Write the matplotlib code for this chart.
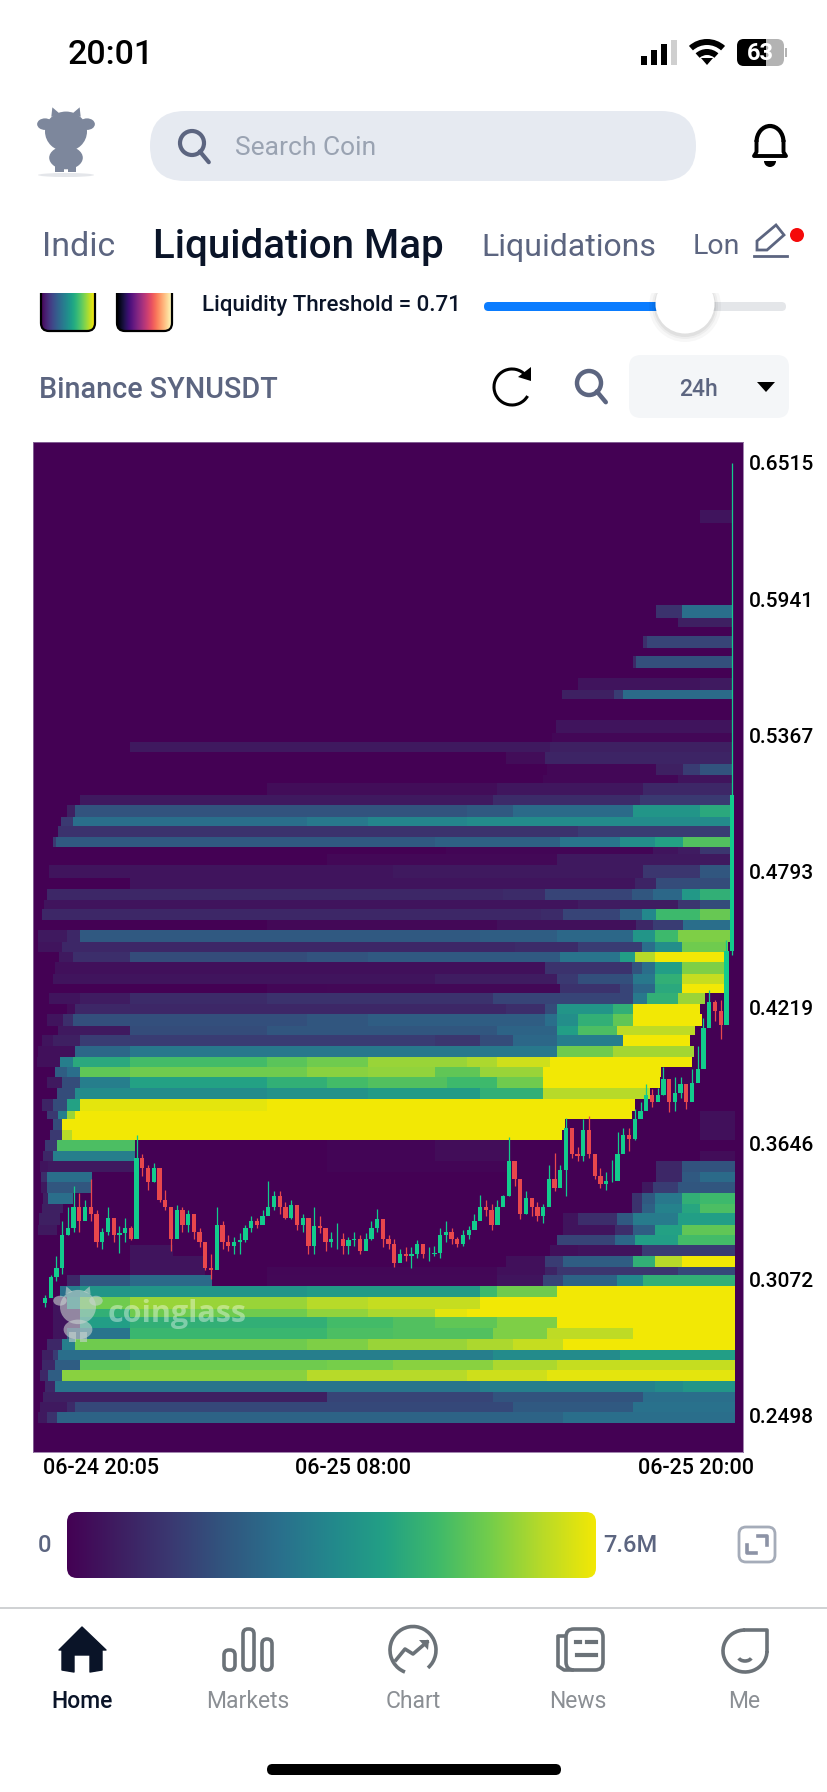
import numpy as np
import matplotlib
matplotlib.use('Agg')
import matplotlib.pyplot as plt
from matplotlib.colors import LinearSegmentedColormap
from matplotlib.patches import Arc, Circle, Ellipse, FancyBboxPatch, Polygon, Rectangle, Wedge

plt.rcParams['font.family'] = ['Roboto', 'DejaVu Sans']

# price rows of the heatmap, top to bottom
price_edges = [
    .6603, .6317, .6262, .5916, .5862, .5824, .5786, .5735, .5701, .5651, .5609, .5558, .5520, .5432,
    .5377, .5339, .5297, .5246, .5200, .5166, .5116, .5073, .5023, .4985, .4938, .4896, .4867, .4820,
    .4766, .4719, .4673, .4635, .4589, .4546, .4494, .4454, .4410, .4361, .4317, .4280, .4236, .4191,
    .4140, .4103, .4058, .4011, .3967, .3925, .3881, .3834, .3785, .3748, .3704, .3659, .3615, .3573,
    .3526, .3482, .3438, .3393, .3352, .3304, .3260, .3220, .3174, .3127, .3090, .3046, .2999, .2950,
    .2913, .2868, .2821, .2775, .2735, .2691, .2644, .2598, .2558, .2514, .2470,
]

# one list per row: (hours since start, liquidity in millions) - each level holds until the next entry
liquidity_steps = [
    [],
    [(22.88, .5), (24, 0)],
    [],
    [(21.34, 1.3), (22.25, 3.0), (24, 0)],
    [(22.11, .8), (24, 0)],
    [],
    [(20.89, 1.2), (21.03, 1.8), (24, 0)],
    [],
    [(20.54, 1.0), (20.64, 2.1), (24, 0)],
    [],
    [(18.62, .5), (22.88, .65), (24, 0)],
    [(18.06, .8), (19.87, 1.6), (20.19, 2.9), (24, 0)],
    [],
    [(17.85, .5), (24, 0)],
    [(17.71, .15), (24, 0)],
    [(2.97, .6), (17.64, .8), (24, 0)],
    [(16.1, .3), (17.46, .9), (24, 0)],
    [(17.53, .15), (21.34, .8), (22.28, 1.6), (22.88, 2.2), (24, 0)],
    [(17.4, .15), (22.11, .5), (24, 0)],
    [(7.75, .3), (15.79, .55), (20.89, 1), (24, 0)],
    [(1.22, .6), (15.65, 1.1), (20.78, 1.5), (24, 0)],
    [(.77, .8), (1.05, 2.2), (14.74, 2.4), (16.35, 2.9), (20.54, 4.2), (22.88, 4.8), (24.03, 0)],
    [(.56, 1.5), (.98, 3.0), (9.15, 3.3), (11.28, 3.7), (14.74, 3.9), (24, 0)],
    [(.45, 1.3), (18.62, 1.6), (24, 0)],
    [(.28, 1.5), (.38, 2.4), (13.62, 2.6), (17.99, 3.2), (20.08, 4), (21.31, 4.6), (22.28, 5.6), (24.03, 0)],
    [(14, .1), (21.24, .5), (22.11, .7), (22.88, 1.4), (24, 0)],
    [(9.85, .2), (17.88, .6), (24, 0)],
    [(.14, .5), (12.16, .6), (20.89, 1.4), (22.88, 2.3), (24, 0)],
    [(2.97, .5), (20.61, .9), (21.34, 2.0), (24, 0)],
    [(.07, 1.0), (16.0, 1.1), (17.46, 1.8), (20.5, 2.3), (21.24, 2.8), (22.25, 4.3), (22.88, 5), (24.03, 0)],
    [(-.03, .5), (18.62, .7), (22.11, 1.4), (22.88, 2), (24, 0)],
    [(-.1, 1), (17.32, 1.1), (18.09, 1.8), (20.08, 2.6), (20.85, 3.8), (21.34, 5.3), (22.88, 5.9), (24.03, 0)],
    [(7.75, .2), (15.79, .4), (20.64, 1), (21.24, 1.6), (22.28, 3), (24, 0)],
    [(-.24, .6), (.77, 1), (1.22, 2.4), (15.19, 2.5), (17.88, 2.8), (20.54, 4.2), (21.31, 5.3), (22.11, 6.2), (23.93, 0)],
    [(-.24, .5), (.59, 1), (16.42, 1.1), (18.62, 1.6), (20.85, 3), (21.31, 4), (22.25, 6), (23.86, 0)],
    [(.49, .6), (.98, 1.2), (2.97, 2), (9.15, 2.2), (11.28, 2.4), (17.99, 3.2), (20.08, 4.5), (20.61, 6.8), (21.31, 7.6), (23.86, 0)],
    [(.35, .4), (17.46, 1.3), (20.5, 2.2), (20.85, 3), (21.31, 4.5), (22.25, 6.2), (23.86, 0)],
    [(.28, .5), (13.62, .7), (17.88, 1.5), (18.62, 2.1), (20.54, 3.3), (21.31, 5), (22.25, 7), (23.86, 0)],
    [(7.75, .15), (9.85, .2), (17.99, 1.3), (20.08, 1.8), (20.54, 2.8), (21.31, 4.8), (22.25, 7.6), (23.79, 0)],
    [(.14, .5), (1.22, .7), (2.97, 1.1), (7.75, 1.3), (15.65, 1.8), (20.54, 3.3), (21.03, 5), (22.11, 6.5), (23.05, 0)],
    [(.77, .3), (1.05, 1), (16.1, 1.2), (17.46, 2), (17.88, 4.2), (19.84, 5), (20.54, 7.6), (22.88, 0)],
    [(.07, .5), (.63, 1.2), (.98, 2.1), (9.15, 2.3), (11.28, 2.5), (17.46, 3), (17.88, 4), (18.62, 5), (19.84, 5.8), (20.54, 7.6), (22.95, 0)],
    [(.45, .6), (2.97, 2), (7.75, 2.3), (15.79, 2.7), (17.88, 4.5), (18.62, 5.5), (19.98, 6.9), (22.7, 0)],
    [(-.1, .5), (.28, .8), (1.22, 1.6), (13.62, 1.4), (15.19, 2), (16.35, 2.8), (17.88, 3.5), (20.19, 7.6), (22.53, 0)],
    [(-.24, .4), (1.05, 2.8), (2.97, 3.3), (17.88, 6), (19.84, 6.6), (22.67, 0)],
    [(-.28, .4), (.52, 3.5), (.98, 4.8), (2.97, 5.4), (7.75, 5.7), (9.15, 6), (11.28, 6.5), (14.74, 6.7), (15.79, 7.1), (17.64, 7.6), (22.6, 0)],
    [(.35, 2.5), (.77, 3), (1.22, 5.8), (2.97, 6), (9.15, 6.3), (11.28, 6.4), (13.62, 5.8), (15.19, 6.5), (17.39, 7.6), (21.52, 0)],
    [(.07, .6), (.59, 2), (1.22, 3.5), (2.97, 4.6), (7.75, 5), (9.85, 5.4), (11.28, 5.6), (14.04, 5.3), (15.79, 6), (17.39, 7.6), (21.48, 0)],
    [(.42, 2), (1.05, 3.9), (7.75, 4.1), (11.28, 4.4), (15.19, 5), (17.39, 6.8), (21.13, 0)],
    [(-.1, .9), (.28, 2), (.77, 4.6), (1.22, 7.4), (7.75, 7.6), (20.61, 0)],
    [(.07, 1.5), (.45, 3.5), (.77, 6.5), (1.05, 7.6), (20.5, 0), (22.88, .4), (24.1, 0)],
    [(.28, 2), (.59, 7.6), (18.16, 0), (22.88, .4), (24.1, 0)],
    [(.17, 1.5), (.59, 6.8), (.94, 7.6), (18.06, 0), (22.88, .4), (24.1, 0)],
    [(0, 1.5), (.42, 5.5), (3.14, 0), (9.85, .1), (13.62, .3), (16.24, 0)],
    [(-.07, 1), (.28, 3.5), (3.14, 0), (9.85, .1), (13.62, .3), (16.24, 0), (22.88, .3), (24.1, 0)],
    [(-.17, .5), (.1, .6), (3.14, 0), (9.85, .1), (16.24, 0), (21.34, 1), (22.25, 2.2), (24.1, 0)],
    [(-.14, 1.2), (.07, 3), (1.64, 0), (21.34, 1), (22.25, 2.4), (22.88, 2.9), (24.1, 0)],
    [(-.14, .6), (.07, 2.3), (1.64, 0), (20.85, .6), (21.24, 1.6), (22.11, 2.3), (24.1, 0)],
    [(-.07, .8), (.1, 3), (.98, 0), (20.5, 1.3), (20.85, 2.4), (21.31, 3.3), (22.25, 5), (22.88, 5.3), (24.1, 0)],
    [(-.1, .8), (.63, 0), (20.5, 1.3), (20.85, 2.6), (21.31, 3.6), (22.25, 4.7), (22.88, 5.5), (24.1, 0)],
    [(-.21, .8), (.52, 0), (18.09, .5), (18.62, 1.2), (19.98, 2.4), (20.54, 3.4), (22.11, 4.5), (24.1, 0)],
    [(-.24, .6), (.42, 0), (18.09, .5), (19.91, 1.2), (20.54, 2.5), (21.31, 4.6), (22.25, 5.8), (24.1, 0)],
    [(17.88, 1.8), (19.91, 2.8), (20.61, 4.5), (22.11, 5.4), (24.1, 0)],
    [(2.97, .5), (4.47, 0), (17.64, .4), (18.62, .5), (20.85, 1.6), (24.1, 0)],
    [(2.97, .5), (5.59, 0), (16.1, .4), (17.46, 1.6), (18.09, 2.5), (20.54, 5), (21.31, 6.8), (22.25, 7.6), (24.1, 0)],
    [(2.97, .5), (5.59, 0), (7.75, .15), (15.79, .4), (17.46, .9), (17.88, 1.4), (22.11, 1.9), (24.1, 0)],
    [(.77, 1), (1.22, 2.4), (2.97, 2.9), (5.83, 0), (7.75, .2), (15.79, .5), (17.39, 1.8), (18.09, 2.7), (19.98, 3.8), (20.89, 5), (24.1, 0)],
    [(.52, 3), (.77, 3.5), (1.22, 4.2), (9.15, 4.4), (15.19, 5.3), (15.79, 6), (17.88, 7.6), (24.1, 0)],
    [(.28, .5), (.77, 4), (1.22, 6), (2.97, 6.5), (9.15, 6.8), (11.28, 7), (15.19, 7.6), (24.1, 0)],
    [(.28, .5), (1.22, 5), (2.97, 6), (9.15, 6.4), (11.28, 6.7), (13.62, 7.4), (14.74, 7.6), (24.1, 0)],
    [(.28, .5), (1.22, 4.5), (2.97, 5), (9.85, 5.4), (12.16, 5.6), (13.62, 5.8), (15.79, 6.2), (17.88, 7.6), (24.1, 0)],
    [(.28, .5), (.77, 2.3), (1.22, 3.2), (2.97, 5.2), (9.85, 5.5), (12.16, 5.6), (15.65, 6.2), (17.53, 6.9), (20.54, 7.6), (24.1, 0)],
    [(.07, 1), (.59, 3.5), (1.05, 6), (9.15, 6.2), (11.28, 6.5), (14.74, 6.7), (16.35, 7), (18.09, 7.6), (24.1, 0)],
    [(-.1, .8), (.28, 1.6), (.45, 3), (2.97, 3.5), (15.65, 3.9), (20.08, 4.5), (24.1, 0)],
    [(-.1, 1), (.35, 2.5), (1.22, 5.8), (2.97, 6), (9.85, 6.1), (12.16, 6.3), (15.65, 6.7), (17.88, 7), (24.1, 0)],
    [(-.17, 1), (.1, 2.5), (.59, 6.3), (9.15, 6.8), (14.74, 7.1), (17.53, 7.4), (24.1, 0)],
    [(0, 1), (.35, 3.2), (15.19, 3.5), (20.08, 3.6), (21.31, 3.9), (22.28, 4.2), (24.1, 0)],
    [(-.07, .8), (9.85, 1.8), (15.65, 2.2), (20.89, 3), (24.1, 0)],
    [(-.17, .6), (.77, 1.1), (1.05, 1.9), (16.35, 2.4), (20.54, 3.1), (24.1, 0)],
    [(-.24, .6), (.07, 1.3), (.42, 2.7), (18.09, 3), (24.1, 0)],
]

# candles, 12 minutes apart
first_open = .2975
closes = [
    .2994, .3083, .3120, .3260, .3290, .3378, .3319, .3378, .3349, .3231,
    .3275, .3334, .3260, .3268, .3290, .3245, .3585, .3541, .3482, .3541,
    .3408, .3378, .3245, .3364, .3304, .3349, .3275, .3231, .3120, .3112,
    .3304, .3231, .3216, .3231, .3238, .3290, .3319, .3304, .3341, .3378,
    .3423, .3378, .3334, .3386, .3304, .3334, .3216, .3297, .3290, .3231,
    .3245, .3245, .3216, .3238, .3245, .3194, .3245, .3290, .3327, .3245,
    .3223, .3142, .3179, .3171, .3179, .3223, .3179, .3179, .3186, .3260,
    .3275, .3245, .3223, .3260, .3282, .3319, .3378, .3364, .3304, .3378,
    .3423, .3571, .3497, .3349, .3415, .3378, .3341, .3378, .3497, .3460,
    .3534, .3711, .3600, .3593, .3704, .3600, .3511, .3474, .3489, .3489,
    .3600, .3681, .3667, .3748, .3785, .3851, .3822, .3851, .3918, .3822,
    .3859, .3896, .3822, .3903, .3962, .4132, .4243, .4206, .4147, .4457, .5116,
]
highs = [
    .3009, .3090, .3171, .3319, .3378, .3467, .3438, .3408, .3497, .3364,
    .3290, .3378, .3304, .3297, .3334, .3297, .3681, .3600, .3556, .3563,
    .3526, .3452, .3378, .3386, .3378, .3364, .3334, .3290, .3231, .3179,
    .3378, .3319, .3260, .3253, .3268, .3304, .3341, .3334, .3364, .3489,
    .3445, .3445, .3401, .3408, .3349, .3349, .3334, .3378, .3341, .3290,
    .3275, .3312, .3268, .3253, .3275, .3260, .3268, .3319, .3371, .3304,
    .3260, .3245, .3201, .3208, .3208, .3238, .3223, .3208, .3216, .3290,
    .3319, .3290, .3253, .3282, .3297, .3349, .3430, .3408, .3393, .3408,
    .3430, .3674, .3541, .3489, .3445, .3415, .3401, .3393, .3556, .3607,
    .3556, .3755, .3704, .3630, .3748, .3763, .3600, .3541, .3526, .3578,
    .3696, .3711, .3711, .3792, .3822, .3896, .3874, .3881, .3967, .3910,
    .3925, .3925, .3888, .3962, .4058, .4176, .4295, .4250, .4250, .4502, .6515,
]
lows = [
    .2957, .3024, .3068, .3098, .3260, .3275, .3275, .3334, .3319, .3208,
    .3201, .3260, .3231, .3186, .3231, .3238, .3260, .3511, .3452, .3482,
    .3401, .3364, .3194, .3275, .3275, .3275, .3245, .3208, .3112, .3075,
    .3127, .3201, .3194, .3179, .3179, .3231, .3275, .3290, .3319, .3349,
    .3364, .3349, .3327, .3327, .3282, .3275, .3179, .3179, .3268, .3194,
    .3208, .3201, .3179, .3179, .3216, .3179, .3201, .3238, .3275, .3208,
    .3201, .3127, .3149, .3149, .3120, .3164, .3164, .3149, .3171, .3164,
    .3231, .3223, .3208, .3216, .3245, .3290, .3341, .3341, .3282, .3349,
    .3393, .3423, .3467, .3327, .3349, .3341, .3319, .3312, .3386, .3445,
    .3511, .3423, .3585, .3571, .3571, .3585, .3497, .3460, .3452, .3482,
    .3541, .3644, .3615, .3659, .3763, .3792, .3800, .3829, .3851, .3777,
    .3785, .3837, .3792, .3888, .3940, .3970, .4162, .4162, .4088, .4206, .4440,
]

price_ticks = [.6515, .5941, .5367, .4793, .4219, .3646, .3072, .2498]
time_ticks = [1.96, 10.76, 22.74]
time_labels = ['06-24 20:05', '06-25 08:00', '06-25 20:00']
max_liquidity = 7.6

PURPLE = '#440154'
SLATE = '#5c6580'
GREY = '#8b8f94'
DARK = '#0a1428'

liq_cmap = LinearSegmentedColormap.from_list('liq', [
    (0, PURPLE), (.1, '#3e1f62'), (.2, '#3a3a72'), (.3, '#31567f'), (.4, '#2a6f8c'), (.5, '#23888c'),
    (.6, '#22a085'), (.7, '#3eb96b'), (.8, '#73cd4b'), (.9, '#b8da28'), (1, '#f2e805'),
])

fig = plt.figure(figsize=(8.28, 17.92), dpi=100, facecolor='white')

# ---------- heatmap and candles ----------
ax = fig.add_axes([33 / 828, 1 - 1452 / 1792, 710 / 828, 1010 / 1792], facecolor=PURPLE)

time_edges = np.array(sorted({t for steps in liquidity_steps for t, _ in steps}))
liquidity = np.zeros((len(liquidity_steps), len(time_edges) - 1))
for r, steps in enumerate(liquidity_steps):
    for (t0, v), (t1, _) in zip(steps, steps[1:]):
        liquidity[r, (time_edges[:-1] >= t0) & (time_edges[:-1] < t1)] = v
ax.pcolormesh(time_edges, price_edges, liquidity, cmap=liq_cmap, vmin=0, vmax=max_liquidity, shading='flat')

candle_close = np.array(closes)
candle_open = np.r_[first_open, candle_close[:-1]]
candle_time = np.arange(len(closes)) * 0.2
candle_color = np.where(candle_close >= candle_open, '#12cc8c', '#e8474c')
ax.vlines(candle_time, lows, highs, colors=candle_color, lw=.9)
ax.bar(candle_time, np.abs(candle_close - candle_open), bottom=np.minimum(candle_open, candle_close),
       width=.15, color=candle_color)

ax.set_xlim(-.419, 24.38)
ax.set_ylim(.2346, .6603)
ax.yaxis.tick_right()
ax.set_yticks(price_ticks, labels=[f'{p:.4f}' for p in price_ticks], fontsize=15, fontweight='medium')
ax.set_xticks(time_ticks, labels=time_labels, fontsize=15.5, fontweight='medium')
ax.tick_params(length=0, pad=4)
for spine in ax.spines.values():
    spine.set_color('#8f6fa0')
    spine.set_linewidth(.6)

# ---------- app screen around the chart, in pixels ----------
ui = fig.add_axes([0, 0, 1, 1], zorder=5)
ui.patch.set_visible(False)
ui.axis('off')


def label(x, y, s, size, color=DARK, weight='normal', ha='left'):
    ui.text(x, y, s, fontsize=size, color=color, fontweight=weight, ha=ha, va='center', zorder=4)


def round_box(x0, y0, x1, y1, r, **kw):
    box = FancyBboxPatch((x0 + r, y0 + r), x1 - x0 - 2 * r, y1 - y0 - 2 * r,
                         boxstyle=f'round,pad={r},rounding_size={r}', **kw)
    ui.add_patch(box)
    return box


def gradient(x0, y0, x1, y1, cmap, clip):
    im = ui.imshow(np.linspace(0, 1, 256)[None, :], extent=(x0, x1, y1, y0), cmap=cmap, aspect='auto', zorder=1)
    im.set_clip_path(clip)


def magnifier(cx, cy, r, color, lw):
    ui.add_patch(Circle((cx, cy), r, fill=False, ec=color, lw=lw))
    ui.plot([cx + r * .65, cx + r * 1.4], [cy + r * .7, cy + r * 1.6], color=color, lw=lw, solid_capstyle='round')


def cow(cx, cy, s, color, alpha=1.0):
    parts = [Ellipse((cx, cy - 10 * s), 40 * s, 38 * s), Ellipse((cx - 20 * s, cy - 17 * s), 15 * s, 11 * s),
             Ellipse((cx + 20 * s, cy - 17 * s), 15 * s, 11 * s), Ellipse((cx, cy + 15 * s), 32 * s, 22 * s),
             Rectangle((cx - 10 * s, cy + 18 * s), 8 * s, 11 * s), Rectangle((cx + 2 * s, cy + 18 * s), 8 * s, 11 * s),
             Polygon([(cx - 14 * s, cy - 24 * s), (cx - 13 * s, cy - 33 * s), (cx - 6 * s, cy - 27 * s)]),
             Polygon([(cx + 14 * s, cy - 24 * s), (cx + 13 * s, cy - 33 * s), (cx + 6 * s, cy - 27 * s)])]
    for p in parts:
        p.set(fc=color, ec='none', alpha=alpha)
        ui.add_patch(p)


# status bar
label(68, 55, '20:01', 24.5, color='black', weight='medium')
for x, top, col in [(641, 56, 'black'), (651, 50, 'black'), (661, 44, 'black'), (671, 40, '#cfcfcf')]:
    ui.add_patch(Rectangle((x, top), 6.5, 65 - top, fc=col, ec='none'))
for r, w in [(27, 6), (17, 6)]:
    ui.add_patch(Wedge((707, 66), r, 228, 312, width=w, fc='black', ec='none'))
ui.add_patch(Polygon([(701, 58), (713, 58), (707, 65)], fc='black', ec='none'))
round_box(737, 39, 784, 66, 7, fc='#b3b3b3', ec='none')
clip_bat = Rectangle((737, 39), 29, 27, transform=ui.transData)
b = round_box(737, 39, 784, 66, 7, fc='black', ec='none')
b.set_clip_path(clip_bat)
ui.add_patch(Rectangle((785, 48), 2.5, 9, fc='#b3b3b3', ec='none'))
label(760, 54, '63', 17, color='white', weight='bold', ha='center')

# search row
cow(66, 142, 1.05, '#7d879c')
ui.add_patch(Ellipse((66, 175), 56, 4, fc='#e4e6ea', ec='none', zorder=0))
round_box(150, 111, 696, 181, 35, fc='#e6eaf1', ec='none')
magnifier(192, 143, 12, SLATE, 3)
label(235, 148, 'Search Coin', 19, color='#9aa3b2')
ui.add_patch(Arc((770, 142), 27, 32, theta1=180, theta2=360, ec='black', lw=3))
ui.plot([756.5, 756.5, 754, 786, 783.5, 783.5], [142, 152, 156, 156, 152, 142], color='black', lw=2.8, solid_joinstyle='round')
ui.add_patch(Wedge((770, 161), 6, 0, 180, fc='black', ec='none'))

# tabs
label(42, 247, 'Indic', 24.5, color=SLATE)
label(153, 247, 'Liquidation Map', 29, color=DARK, weight='medium')
label(481, 247, 'Liquidations', 23, color=SLATE)
label(693, 247, 'Lon', 20.5, color=SLATE)
ui.add_patch(Polygon([(757, 250), (757, 241), (776, 225), (784, 235), (767, 250)], fill=False, ec=SLATE, lw=2, zorder=6))
ui.plot([754, 787], [256, 256], color=SLATE, lw=2, zorder=6)
ui.add_patch(Circle((797, 235), 7, fc='#f50a0a', ec='none', zorder=6))

# colour scheme swatches and threshold slider
for x0, x1, cmap in [(41, 95, 'viridis'), (117, 172, 'magma')]:
    frame = round_box(x0, 270, x1, 331, 8, fc='none', ec='black', lw=1.6, zorder=2)
    gradient(x0, 270, x1, 331, cmap, frame)
ui.add_patch(Rectangle((30, 268), 160, 25, fc='white', ec='none', zorder=3))
label(202, 306, 'Liquidity Threshold = 0.71', 16, color=DARK, weight='medium')
round_box(484, 302, 786, 311, 4.5, fc='#e4e6e9', ec='none')
round_box(484, 302, 685, 311, 4.5, fc='#0a7cff', ec='none')
for r, a in [(36, .03), (33, .04), (31, .05)]:
    ui.add_patch(Circle((685, 306), r, fc='black', ec='none', alpha=a))
ui.add_patch(Circle((685, 304), 29.5, fc='white', ec='none'))
ui.add_patch(Rectangle((640, 268), 90, 25, fc='white', ec='none'))

# exchange row
label(39, 390, 'Binance SYNUSDT', 20.7, color=SLATE, weight='medium')
ui.add_patch(Arc((512, 387), 36, 36, theta1=30, theta2=318, ec='black', lw=2.2))
ui.add_patch(Polygon([(531, 367), (531, 381), (518, 377)], fc='black', ec='none'))
magnifier(589, 383, 12, SLATE, 3.2)
round_box(629, 355, 789, 418, 12, fc='#f4f6f8', ec='none')
label(699, 389, '24h', 16.5, color=SLATE, weight='medium', ha='center')
ui.add_patch(Polygon([(757, 382), (775, 382), (766, 392)], fc='black', ec='none'))

# watermark
cow(78, 1316, .9, '#c9d4d0', alpha=.6)
ui.text(108, 1314, 'coinglass', fontsize=22, color='white', alpha=.38, fontweight='bold', va='center', family='Open Sans')

# colour bar
bar_box = round_box(67, 1512, 596, 1578, 10, fc='none', ec='none')
gradient(67, 1512, 596, 1578, liq_cmap, bar_box)
label(38, 1546, '0', 17, color=SLATE, weight='medium')
label(603, 1546, str(max_liquidity) + 'M', 17, color=SLATE, weight='medium')
round_box(739, 1527, 775, 1562, 7, fc='none', ec='#a5acb9', lw=2)
ui.plot([758, 767, 767], [1536, 1536, 1545], color=SLATE, lw=2.6, alpha=.7)
ui.plot([747, 747, 756], [1545, 1553, 1553], color=SLATE, lw=2.6, alpha=.7)

# bottom navigation
ui.plot([0, 828], [1608, 1608], color='#cfd1d3', lw=1.4)
nav_color = '#6b7278'
ui.add_patch(Polygon([(59, 1650), (82, 1627), (106, 1650), (102, 1650), (102, 1670), (90, 1672), (90, 1655), (74, 1655), (74, 1672), (62, 1670), (62, 1650)],
                     fc=DARK, ec=DARK, lw=1, joinstyle='round'))
for x0, x1, y0 in [(224, 235, 1650), (243, 254, 1629), (262, 272, 1639)]:
    round_box(x0, y0, x1, 1670, 5, fc='none', ec=nav_color, lw=2.6)
ui.add_patch(Arc((413, 1650), 46, 47, theta1=110, theta2=50, ec=nav_color, lw=2.6))
ui.plot([396, 405, 413, 427], [1660, 1649, 1654, 1642], color=nav_color, lw=2.6)
ui.add_patch(Polygon([(419, 1640), (429, 1640), (428, 1650)], fc=nav_color, ec='none'))
round_box(566, 1629, 603, 1670, 8, fc='none', ec=nav_color, lw=2.6)
ui.plot([565, 558, 558, 564, 572], [1636, 1636, 1666, 1670, 1670], color=nav_color, lw=2.6)
ui.plot([576, 580], [1642, 1642], color=nav_color, lw=3)
ui.plot([587, 596], [1642, 1642], color=nav_color, lw=3)
ui.plot([577, 596], [1655, 1655], color=nav_color, lw=3)
ui.add_patch(Arc((745, 1651), 44, 42, theta1=0, theta2=270, ec=nav_color, lw=2.6))
ui.plot([745, 767, 767], [1630, 1630, 1651], color=nav_color, lw=2.6)
ui.add_patch(Arc((745, 1656), 14, 10, theta1=20, theta2=160, ec=nav_color, lw=2.6))

for x, name, col in [(82, 'Home', DARK), (248, 'Markets', GREY), (413, 'Chart', GREY), (578, 'News', GREY), (744, 'Me', GREY)]:
    label(x, 1702, name, 16.5, color=col, ha='center', weight='medium' if name == 'Home' else 'normal')

round_box(267, 1764, 561, 1775, 5.5, fc='black', ec='none')

ui.set_xlim(0, 828)
ui.set_ylim(1792, 0)

fig.savefig('out.png', dpi=100, facecolor='white')
